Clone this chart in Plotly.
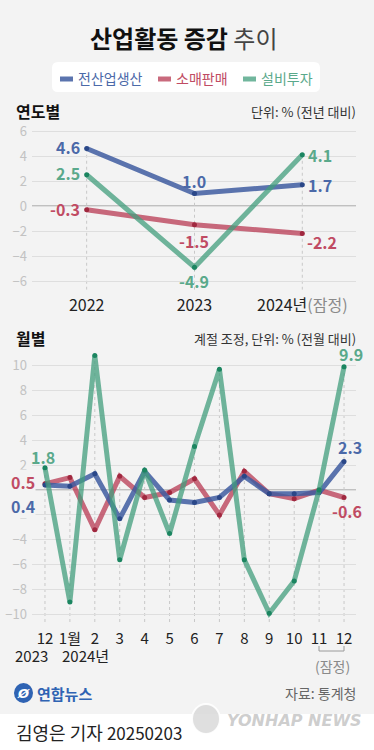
import plotly.graph_objects as go

# ---------------- data ----------------
years = ["2022", "2023", "2024년<span style='color:#8a8a8a'>(잠정)</span>"]
annual_production = [4.6, 1.0, 1.7]     # 전산업생산
annual_retail = [-0.3, -1.5, -2.2]      # 소매판매
annual_invest = [2.5, -4.9, 4.1]        # 설비투자

months = ["12", "1월", "2", "3", "4", "5", "6", "7", "8", "9", "10", "11", "12"]
monthly_production = [0.4, 0.3, 1.3, -2.3, 1.5, -0.8, -1.0, -0.6, 1.1, -0.3, -0.3, -0.2, 2.3]
monthly_retail = [0.5, 1.0, -3.2, 1.1, -0.6, -0.2, 0.9, -2.0, 1.5, -0.3, -0.7, 0.0, -0.6]
monthly_invest = [1.8, -9.0, 10.8, -5.6, 1.6, -3.5, 3.5, 9.7, -5.6, -9.9, -7.3, 0.0, 9.9]

series_names = ["전산업생산", "소매판매", "설비투자"]
yticks_top = [-6, -4, -2, 0, 2, 4, 6]
yticks_bottom = [-10, -8, -6, -4, -2, 0, 2, 4, 6, 8, 10]

# ---------------- style ----------------
W, H = 374, 750
BG = "#f3f3f3"
FONT = "Noto Sans CJK KR"
line_col = {"p": "rgba(62,92,160,0.85)", "r": "rgba(186,64,88,0.78)", "i": "rgba(66,158,124,0.75)"}
mark_col = {"p": "#2a4788", "r": "#a0283f", "i": "#1b8560"}
lab_col = {"p": "#4b69a8", "r": "#c04b63", "i": "#5aa98b"}


def px(x):
    return x / W


def py(y):
    return 1 - y / H


fig = go.Figure()

top_x = list(range(len(years)))
bot_x = list(range(len(months)))

TOP_RANGE = [-6.7, 6.4]
BOT_RANGE = [-10.6, 11.2]

# dotted verticals (from data max down to axis bottom)
shapes = []
for i in top_x:
    top = max(annual_production[i], annual_retail[i], annual_invest[i])
    shapes.append(dict(type="line", xref="x", yref="y", x0=i, x1=i, y0=TOP_RANGE[0], y1=top,
                       line=dict(color="#c8c8c8", width=1, dash="dot"), layer="below"))
for i in bot_x:
    top = max(monthly_production[i], monthly_retail[i], monthly_invest[i])
    shapes.append(dict(type="line", xref="x2", yref="y2", x0=i, x1=i, y0=BOT_RANGE[0], y1=top,
                       line=dict(color="#c8c8c8", width=1, dash="dot"), layer="below"))

for key, vals, name in [("r", annual_retail, series_names[1]), ("p", annual_production, series_names[0]),
                        ("i", annual_invest, series_names[2])]:
    fig.add_trace(go.Scatter(x=top_x, y=vals, mode="lines+markers", name=name, showlegend=False,
                             line=dict(color=line_col[key], width=5),
                             marker=dict(color=mark_col[key], size=5), xaxis="x", yaxis="y"))

for key, vals, name in [("r", monthly_retail, series_names[1]), ("p", monthly_production, series_names[0]),
                        ("i", monthly_invest, series_names[2])]:
    fig.add_trace(go.Scatter(x=bot_x, y=vals, mode="lines+markers", name=name, showlegend=False,
                             line=dict(color=line_col[key], width=5),
                             marker=dict(color=mark_col[key], size=5), xaxis="x2", yaxis="y2"))

ann = []


def dlabel(text, x, y, xref, yref, col, xanchor="center", xshift=0, yshift=0, bg=None):
    d = dict(text=text, x=x, y=y, xref=xref, yref=yref, showarrow=False,
             font=dict(family=FONT, size=16, color=col, weight="bold"),
             xanchor=xanchor, yanchor="middle", xshift=xshift, yshift=yshift)
    if bg:
        d.update(bgcolor=bg, borderpad=0)
    ann.append(d)


# top data labels
dlabel(f"{annual_production[0]:.1f}", 0, annual_production[0], "x", "y", lab_col["p"], "right", -5, 2)
dlabel(f"{annual_invest[0]:.1f}", 0, annual_invest[0], "x", "y", lab_col["i"], "right", -5, 2)
dlabel(f"{annual_retail[0]:.1f}", 0, annual_retail[0], "x", "y", lab_col["r"], "right", -5, 1)
dlabel(f"{annual_production[1]:.1f}", 1, annual_production[1], "x", "y", lab_col["p"], "center", 0, 13)
dlabel(f"{annual_retail[1]:.1f}", 1, annual_retail[1], "x", "y", lab_col["r"], "center", 0, -16)
dlabel(f"{annual_invest[1]:.1f}", 1, annual_invest[1], "x", "y", lab_col["i"], "center", 0, -14)
dlabel(f"{annual_invest[2]:.1f}", 2, annual_invest[2], "x", "y", lab_col["i"], "left", 4, 0)
dlabel(f"{annual_production[2]:.1f}", 2, annual_production[2], "x", "y", lab_col["p"], "left", 4, 0)
dlabel(f"{annual_retail[2]:.1f}", 2, annual_retail[2], "x", "y", lab_col["r"], "left", 3, -8)

# bottom data labels
dlabel(f"{monthly_invest[0]:.1f}", 0, monthly_invest[0], "x2", "y2", lab_col["i"], "center", -2, 11)
dlabel(f"{monthly_retail[0]:.1f}", 0, monthly_retail[0], "x2", "y2", lab_col["r"], "right", -9, 2, BG)
dlabel(f"{monthly_production[0]:.1f}", 0, monthly_production[0], "x2", "y2", lab_col["p"], "right", -9, -21, BG)
dlabel(f"{monthly_invest[-1]:.1f}", 12, monthly_invest[-1], "x2", "y2", lab_col["i"], "center", 7, 13)
dlabel(f"{monthly_production[-1]:.1f}", 12, monthly_production[-1], "x2", "y2", lab_col["p"], "center", 6, 14)
dlabel(f"{monthly_retail[-1]:.1f}", 12, monthly_retail[-1], "x2", "y2", lab_col["r"], "center", 3, -13)


def text(t, x, y, size, color="#222", xanchor="left", bold=False, family=FONT):
    ann.append(dict(text=t, x=px(x), y=py(y), xref="paper", yref="paper", showarrow=False,
                    font=dict(family=family, size=size, color=color, weight="bold" if bold else "normal"),
                    xanchor=xanchor, yanchor="middle"))


def rounded_rect(x0, y0, x1, y1, r):
    # pixel coords (top-left origin) -> paper path
    pts = [
        f"M {px(x0 + r)} {py(y0)}", f"L {px(x1 - r)} {py(y0)}",
        f"Q {px(x1)} {py(y0)} {px(x1)} {py(y0 + r)}", f"L {px(x1)} {py(y1 - r)}",
        f"Q {px(x1)} {py(y1)} {px(x1 - r)} {py(y1)}", f"L {px(x0 + r)} {py(y1)}",
        f"Q {px(x0)} {py(y1)} {px(x0)} {py(y1 - r)}", f"L {px(x0)} {py(y0 + r)}",
        f"Q {px(x0)} {py(y0)} {px(x0 + r)} {py(y0)}", "Z",
    ]
    return " ".join(pts)


# title
text("<b>산업활동 증감</b> <span style='color:#444'>추이</span>", 184, 37, 24, "#111", "center")

# legend box
shapes.append(dict(type="path", xref="paper", yref="paper", path=rounded_rect(52, 62, 320, 92, 6),
                   fillcolor="white", line=dict(width=0), layer="below"))
legend_items = [(60, "p", series_names[0]), (158, "r", series_names[1]), (243, "i", series_names[2])]
for lx, key, name in legend_items:
    shapes.append(dict(type="line", xref="paper", yref="paper", x0=px(lx), x1=px(lx + 13), y0=py(79), y1=py(79),
                       line=dict(color=line_col[key], width=5)))
    text(name, lx + 16, 78, 14, lab_col[key], "left")

# section headers
text("<b>연도별</b>", 14, 111, 16, "#111")
text("단위: % (전년 대비)", 358, 111, 13, "#333", "right")
text("<b>월별</b>", 14, 338, 16, "#111")
text("계절 조정, 단위: % (전월 대비)", 358, 338, 13, "#333", "right")

# second line under month axis
text("2023", 32, 655, 15, "#222", "center")
text("2024년", 85, 655, 15, "#222", "center")
shapes.append(dict(type="path", xref="paper", yref="paper",
                   path=f"M {px(319)} {py(646)} L {px(319)} {py(651)} L {px(344)} {py(651)} L {px(344)} {py(646)}",
                   line=dict(color="#9a9a9a", width=1)))
text("(잠정)", 332, 666, 14, "#8a8a8a", "center")

# footer logo / source
shapes.append(dict(type="circle", xref="paper", yref="paper", x0=px(14), x1=px(33), y0=py(703), y1=py(683),
                   fillcolor="#2f63b3", line=dict(width=0)))
text("<i><b>Ø</b></i>", 23.5, 693, 13, "white", "center", family="DejaVu Sans")
text("<b>연합뉴스</b>", 35, 693, 15, "#2f63b3", "left")
text("자료: 통계청", 358, 693, 14, "#666", "right")

# white band at the bottom
shapes.append(dict(type="rect", xref="paper", yref="paper", x0=0, x1=1, y0=0, y1=py(714),
                   fillcolor="white", line=dict(width=0), layer="below"))
text("김영은 기자 <span style='font-size:17px'>20250203</span>", 14, 732, 18, "#222", "left")

# watermark
shapes.append(dict(type="circle", xref="paper", yref="paper", x0=px(192), x1=px(220), y0=py(734), y1=py(704),
                   fillcolor="rgba(215,215,215,0.8)", line=dict(color="rgba(255,255,255,0.9)", width=2)))
text("<b><i>YONHAP NEWS</i></b>", 294, 720, 16, "rgba(200,200,200,0.9)", "center", family="DejaVu Sans")

axis_common = dict(showline=False, zeroline=False, ticks="", fixedrange=True)

fig.update_layout(
    width=W, height=H,
    margin=dict(l=0, r=0, t=0, b=0),
    paper_bgcolor=BG, plot_bgcolor="rgba(0,0,0,0)",
    showlegend=False,
    shapes=shapes, annotations=ann,
    font=dict(family=FONT),
    xaxis=dict(domain=[px(32), px(356)], range=[-0.507, 2.498], tickvals=top_x, ticktext=years,
               showgrid=False, tickfont=dict(size=16, color="#222"), anchor="y",
               automargin=False, ticklabelstandoff=4, **axis_common),
    yaxis=dict(domain=[py(289.75), py(126)], range=TOP_RANGE, tickvals=yticks_top,
               showgrid=True, gridcolor="#dedede", gridwidth=1,
               tickfont=dict(size=13, color="#c2c2c2"), anchor="x", automargin=False,
               ticklabelstandoff=4, **axis_common),
    xaxis2=dict(domain=[px(32), px(356)], range=[-0.52, 12.48], tickvals=bot_x, ticktext=months,
                showgrid=False, tickfont=dict(size=15, color="#222"), anchor="y2",
                automargin=False, ticklabelstandoff=6, **axis_common),
    yaxis2=dict(domain=[py(622), py(350.6)], range=BOT_RANGE, tickvals=yticks_bottom,
                showgrid=True, gridcolor="#dedede", gridwidth=1,
                tickfont=dict(size=13, color="#c2c2c2"), anchor="x2", automargin=False,
                ticklabelstandoff=4, **axis_common),
)

# zero lines
for xr, yr in [("x", "y"), ("x2", "y2")]:
    fig.add_shape(type="line", xref=f"{xr} domain", yref=yr, x0=0, x1=1, y0=0, y1=0,
                  line=dict(color="#8c8c8c", width=1), layer="below")

fig.write_html("out.html", config={"displayModeBar": False},
               post_script="document.body.style.margin='0';document.body.style.overflow='hidden';")
